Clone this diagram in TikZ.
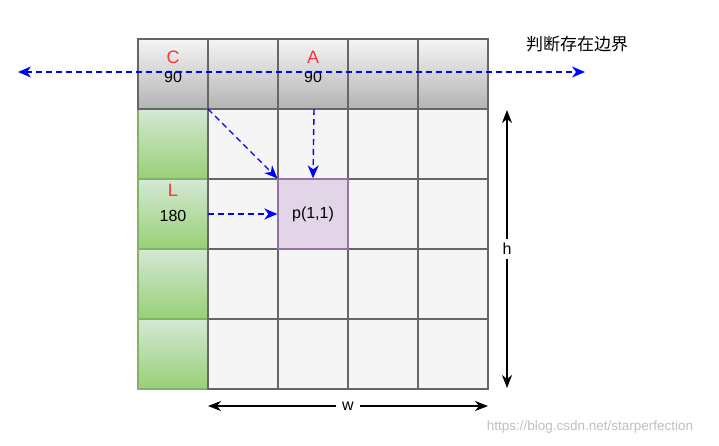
\documentclass[tikz,border=0pt]{standalone}
\usepackage{fontspec}
\setmainfont{Liberation Sans}
\newfontfamily\cjk{Noto Sans CJK SC}
\usetikzlibrary{arrows.meta}
\definecolor{bord}{HTML}{666666}
\definecolor{cellfill}{HTML}{F5F5F5}
\definecolor{gtop}{HTML}{F5F5F5}
\definecolor{gbot}{HTML}{B3B3B3}
\definecolor{ntop}{HTML}{D5E8D4}
\definecolor{nbot}{HTML}{97D077}
\definecolor{nbord}{HTML}{82B366}
\definecolor{pfill}{HTML}{E1D5E7}
\definecolor{pbord}{HTML}{9673A6}
\definecolor{lbl}{HTML}{FF3333}
\tikzset{
  cell/.style={draw=bord,fill=cellfill,line width=1.3pt},
  graycell/.style={draw=bord,top color=gtop,bottom color=gbot,line width=1.3pt},
  greencell/.style={draw=nbord,top color=ntop,bottom color=nbot,line width=1.3pt},
  flow/.style={blue,dashed,dash pattern=on 6pt off 4pt,line width=1.4pt,-{Stealth[length=13pt,width=11pt,inset=4pt]}},
  dim/.style={black,line width=1.5pt,{Stealth[length=13pt,width=10pt,inset=4pt]}-{Stealth[length=13pt,width=10pt,inset=4pt]}},
  txt/.style={font=\fontsize{16}{18}\selectfont,inner sep=0pt},
  red/.style={txt,text=lbl,font=\fontsize{18}{20}\selectfont}
}
\begin{document}
\begin{tikzpicture}[x=1pt,y=-1pt]
\useasboundingbox (0,0) rectangle (719,445);
\foreach \i in {0,...,4}{\foreach \j in {1,...,4}{
  \pgfmathsetmacro\xx{138+70*\i}\pgfmathsetmacro\yy{39+70*\j}
  \ifnum\i=0 \path[greencell] (\xx,\yy) rectangle ++(70,70);
  \else \path[cell] (\xx,\yy) rectangle ++(70,70);\fi}}
\foreach \i in {0,...,4}{\pgfmathsetmacro\xx{138+70*\i}
  \path[graycell] (\xx,39) rectangle ++(70,70);}
\node[draw=pbord,fill=pfill,line width=1.3pt,minimum size=70pt,inner sep=0pt,txt] (p) at (313,214) {p(1,1)};
\node[red] (c) at (173,57) {C};
\node[txt] (c90) at (173,77) {90};
\node[red] (a) at (313,57) {A};
\node[txt] (a90) at (313,77) {90};
\node[red] (l) at (173,190) {L};
\node[txt] (l180) at (173,216) {180};
\coordinate (bl) at (18,72); \coordinate (br) at (585,72);
\draw[flow,{Stealth[length=13pt,width=11pt,inset=4pt]}-{Stealth[length=13pt,width=11pt,inset=4pt]}] (bl) -- (br);
\coordinate (d0) at (208,109); \coordinate (v0) at (314,109); \coordinate (h0) at (208,214);
\draw[flow] (d0) -- (p.north west);
\draw[flow] (v0) -- (p.north);
\draw[flow] (h0) -- (p.west);
\coordinate (ht) at (507,110); \coordinate (hb) at (507,388);
\draw[dim] (ht) -- node[fill=white,txt,inner sep=4pt] {h} (hb);
\coordinate (wl) at (208,406); \coordinate (wr) at (488,406);
\draw[dim] (wl) -- node[fill=white,txt,inner sep=6pt] {w} (wr);
\node[txt,font=\cjk\fontsize{17}{19}\selectfont] (t) at (577,44) {判断存在边界};
\node[txt,text=black!25,font=\fontsize{13.5}{15}\selectfont] (wm) at (590,427) {https://blog.csdn.net/starperfection};
\end{tikzpicture}
\end{document}
